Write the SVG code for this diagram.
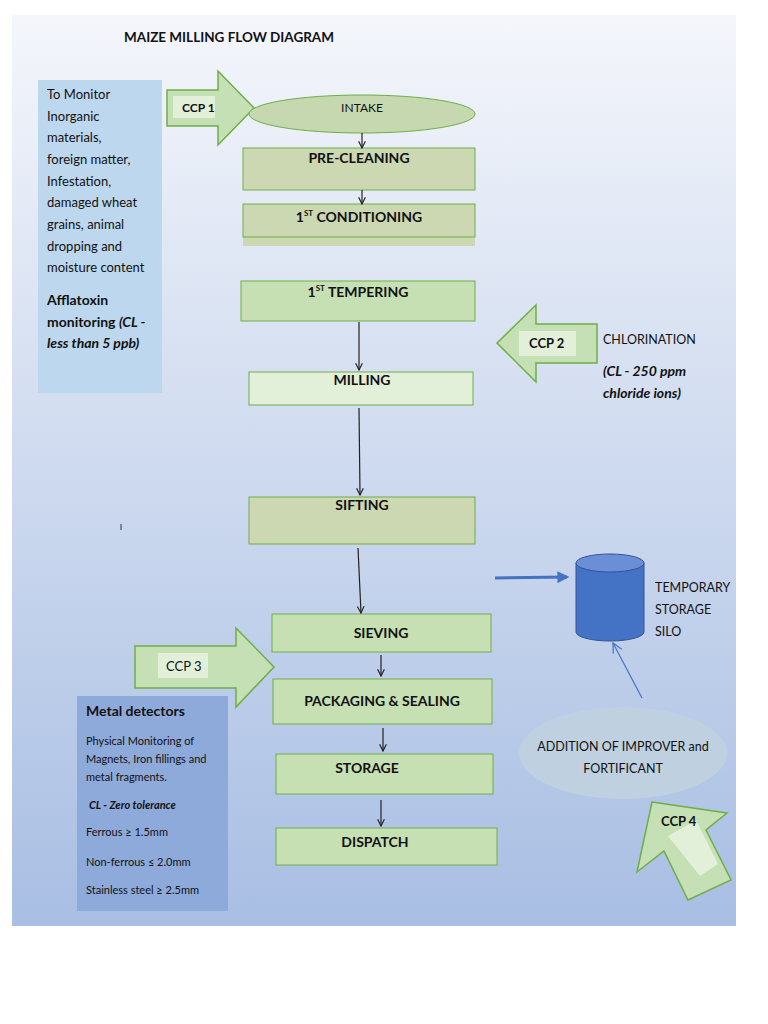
<svg xmlns="http://www.w3.org/2000/svg" width="768" height="1024" viewBox="0 0 768 1024">
<defs>
<linearGradient id="bg" x1="0" y1="0" x2="0" y2="1"><stop offset="0" stop-color="#f4f6fb"/><stop offset="1" stop-color="#a8bee3"/></linearGradient>
<linearGradient id="cyl" x1="0" y1="0" x2="1" y2="0"><stop offset="0" stop-color="#3d6cc2"/><stop offset="1" stop-color="#4472c4"/></linearGradient>
<marker id="ah" viewBox="0 0 10 10" refX="9" refY="5" markerWidth="7" markerHeight="7" orient="auto"><path d="M1,1 L9,5 L1,9" fill="none" stroke="#222" stroke-width="1.4"/></marker>
<marker id="bh" viewBox="0 0 10 10" refX="8" refY="5" markerWidth="4" markerHeight="4" orient="auto"><path d="M0,0 L10,5 L0,10z" fill="#4472c4"/></marker>
<marker id="th" viewBox="0 0 10 10" refX="9" refY="5" markerWidth="10" markerHeight="10" orient="auto"><path d="M1,1 L9,5 L1,9" fill="none" stroke="#4472c4" stroke-width="1"/></marker>
</defs>
<style>
text{font-family:Lato,"Liberation Sans",sans-serif;fill:#111}
.b{font-weight:bold;font-size:14px}
.box{stroke:#70ad47;stroke-width:1}
.arr{fill:#c5e0b4;stroke:#70ad47;stroke-width:1.5}
.lbl{fill:#e2f0d9}
.c{stroke:#222;stroke-width:1.2;fill:none}
.side{font-size:13px}
.small{font-size:11px}
</style>
<rect x="12" y="15" width="724" height="911" fill="url(#bg)"/>
<text x="124" y="42" class="b" style="font-size:13.5px">MAIZE  MILLING FLOW DIAGRAM</text>

<g id="note1">
<rect x="38" y="80" width="124" height="313" fill="#bdd7ee"/>
<text class="side"><tspan x="47" y="99">To Monitor</tspan><tspan x="47" y="121">Inorganic</tspan><tspan x="47" y="142">materials,</tspan><tspan x="47" y="164">foreign matter,</tspan><tspan x="47" y="186">Infestation,</tspan><tspan x="47" y="207">damaged wheat</tspan><tspan x="47" y="229">grains, animal</tspan><tspan x="47" y="251">dropping and</tspan><tspan x="47" y="272">moisture content</tspan></text>
<text style="font-size:14px;font-weight:bold"><tspan x="47" y="305">Afflatoxin</tspan><tspan x="47" y="327">monitoring <tspan font-style="italic">(CL -</tspan></tspan><tspan x="47" y="348" font-style="italic">less than 5 ppb)</tspan></text>
</g>

<g id="ccp1"><polygon class="arr" points="167,90 218,90 218,71 254,108 218,145 218,126 167,126"/><rect class="lbl" x="173" y="96" width="42" height="22"/><text x="182" y="112" style="font-size:12px;font-weight:bold">CCP 1</text></g>

<g id="intake"><ellipse cx="362" cy="114" rx="113" ry="19" fill="#c5d8b0" stroke="#70ad47"/><text x="362" y="112" text-anchor="middle" style="font-size:12px">INTAKE</text></g>
<g id="precleaning"><rect class="box" x="243" y="148" width="232" height="42" fill="#ccd8b2"/><text x="359" y="163" text-anchor="middle" class="b">PRE-CLEANING</text></g>
<g id="cond"><rect x="243" y="206" width="232" height="40" fill="#ccd8b2"/><rect class="box" x="243" y="204" width="232" height="33" fill="#ccd8b2"/><text x="359" y="222" text-anchor="middle" class="b">1<tspan font-size="8" dy="-6">ST</tspan><tspan dy="6"> CONDITIONING</tspan></text></g>
<g id="tempering"><rect class="box" x="241" y="281" width="234" height="40" fill="#c6e0b4"/><text x="358" y="297" text-anchor="middle" class="b">1<tspan font-size="8" dy="-6">ST</tspan><tspan dy="6"> TEMPERING</tspan></text></g>
<g id="milling"><rect class="box" x="249" y="372" width="224" height="33" fill="#e2efd9"/><text x="362" y="385" text-anchor="middle" class="b">MILLING</text></g>
<g id="sifting"><rect class="box" x="249" y="497" width="226" height="47" fill="#ccd8b2"/><text x="362" y="510" text-anchor="middle" class="b">SIFTING</text></g>
<g id="sieving"><rect class="box" x="272" y="614" width="219" height="38" fill="#c6e0b4"/><text x="381" y="638" text-anchor="middle" class="b">SIEVING</text></g>
<g id="packaging"><rect class="box" x="273" y="679" width="219" height="45" fill="#c6e0b4"/><text x="382" y="706" text-anchor="middle" class="b">PACKAGING &amp; SEALING</text></g>
<g id="storage"><rect class="box" x="276" y="754" width="217" height="40" fill="#c6e0b4"/><text x="367" y="773" text-anchor="middle" class="b">STORAGE</text></g>
<g id="dispatch"><rect class="box" x="276" y="828" width="221" height="37" fill="#c6e0b4"/><text x="375" y="847" text-anchor="middle" class="b">DISPATCH</text></g>

<g id="ccp2"><polygon class="arr" points="497,343 536,305 536,324 597,324 597,363 536,363 536,382"/><rect class="lbl" x="519" y="331" width="57" height="25"/><text x="529" y="348" style="font-size:13px;font-weight:bold">CCP 2</text></g>
<g id="chlor"><text x="603" y="344" style="font-size:12.5px">CHLORINATION</text><text style="font-size:14px;font-weight:bold;font-style:italic"><tspan x="603" y="376">(CL - 250 ppm</tspan><tspan x="603" y="398">chloride ions)</tspan></text></g>

<g id="ccp3"><polygon class="arr" points="135,646 236,646 236,628 274,667 236,707 236,688 135,688"/><rect class="lbl" x="158" y="653" width="50" height="25"/><text x="166" y="671" style="font-size:13px">CCP 3</text></g>
<g id="note2"><rect x="77" y="696" width="151" height="215" fill="#8eaadb"/>
<text x="86" y="716" style="font-size:14px;font-weight:bold">Metal detectors</text>
<text class="small"><tspan x="86" y="745">Physical Monitoring of</tspan><tspan x="86" y="763">Magnets, Iron fillings and</tspan><tspan x="86" y="781">metal fragments.</tspan></text>
<text x="89" y="809" class="small" style="font-weight:bold;font-style:italic">CL - Zero tolerance</text>
<text x="86" y="836" class="small">Ferrous ≥ 1.5mm</text>
<text x="86" y="866" class="small">Non-ferrous ≤ 2.0mm</text>
<text x="86" y="894" class="small">Stainless steel ≥ 2.5mm</text></g>

<g id="silo"><path d="M576,563 L576,632 A34,9 0 0 0 644,632 L644,563" fill="#4472c4" stroke="#2f5597"/><ellipse cx="610" cy="563" rx="34" ry="9" fill="#6a8fd6" stroke="#2f5597"/>
<text style="font-size:12.5px"><tspan x="655" y="592">TEMPORARY</tspan><tspan x="655" y="614">STORAGE</tspan><tspan x="655" y="636">SILO</tspan></text></g>
<g id="addition"><ellipse cx="623" cy="753" rx="104" ry="46" fill="#bfd1e0"/><text text-anchor="middle" style="font-size:12.5px"><tspan x="623" y="751">ADDITION OF IMPROVER and</tspan><tspan x="623" y="773">FORTIFICANT</tspan></text></g>
<g id="ccp4"><polygon class="arr" points="652,802 727,813 706,830 731,880 688,900 664,851 637,872"/><polygon class="lbl" points="668,836 696,820 718,864 700,876"/><text x="661" y="826" style="font-size:13px;font-weight:bold">CCP 4</text></g>

<g id="connectors">
<line class="c" x1="362" y1="133" x2="362" y2="148" marker-end="url(#ah)"/>
<line class="c" x1="362" y1="190" x2="362" y2="204" marker-end="url(#ah)"/>
<line class="c" x1="359" y1="322" x2="359" y2="370" marker-end="url(#ah)"/>
<line class="c" x1="359" y1="408" x2="360" y2="495" marker-end="url(#ah)"/>
<line class="c" x1="358" y1="548" x2="361" y2="613" marker-end="url(#ah)"/>
<line class="c" x1="381" y1="655" x2="381" y2="676" marker-end="url(#ah)"/>
<line class="c" x1="383" y1="728" x2="383" y2="751" marker-end="url(#ah)"/>
<line class="c" x1="381" y1="800" x2="381" y2="826" marker-end="url(#ah)"/>
<line x1="495" y1="578" x2="567" y2="577" stroke="#4472c4" stroke-width="3" marker-end="url(#bh)"/>
<line x1="642" y1="698" x2="613" y2="643" stroke="#4472c4" stroke-width="1.2" marker-end="url(#th)"/>
<line x1="121" y1="524" x2="121" y2="530" stroke="#333" stroke-width="1"/>
</g>
</svg>
